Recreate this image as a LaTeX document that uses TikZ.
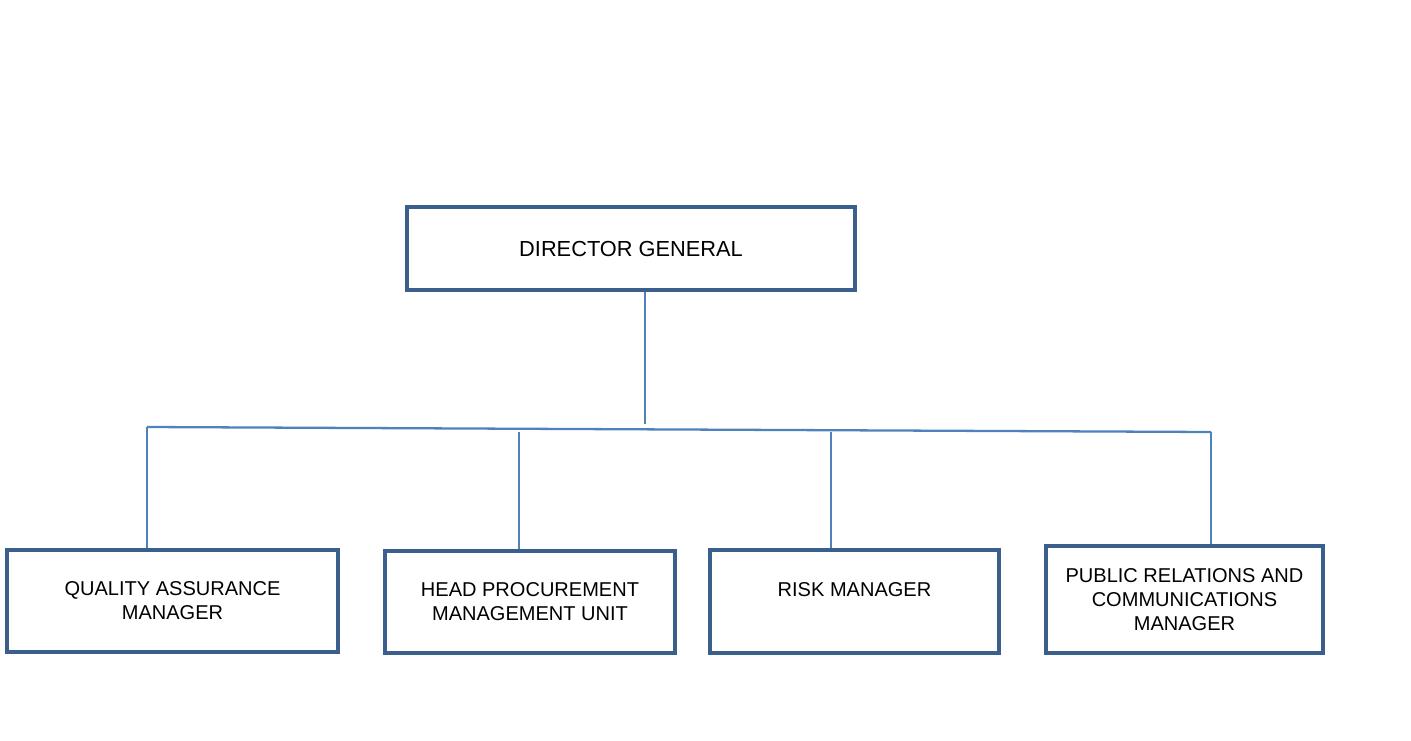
\documentclass[tikz,border=0pt]{standalone}
\usepackage{fontspec}
\setmainfont{Liberation Sans}
\usepackage{tikz}
\definecolor{boxblue}{HTML}{3A5F8C}
\definecolor{linkblue}{HTML}{4F81BD}
\tikzset{
  post/.style={draw=boxblue,line width=2.2pt,fill=white,align=center,
    inner sep=0pt,font=\fontsize{11.4}{13.6}\selectfont},
  link/.style={linkblue,line width=1.3pt}
}

\begin{document}
\begin{tikzpicture}[x=0.02cm,y=-0.02cm]
\useasboundingbox (0,0) rectangle (1411,741);

% Top of the chart
\node[post,minimum width=8.96cm,minimum height=1.66cm,font=\fontsize{12.4}{13.8}\selectfont] (dg) at (631,248.5) {DIRECTOR GENERAL};

% Second row
\node[post,minimum width=6.62cm,minimum height=2.04cm] (qa) at (172.5,601) {QUALITY ASSURANCE\\MANAGER};
\node[post,minimum width=5.80cm,minimum height=2.04cm] (hpmu) at (530,602) {HEAD PROCUREMENT\\MANAGEMENT UNIT};
\node[post,minimum width=5.78cm,minimum height=2.06cm] (risk) at (854.5,601.5) {RISK MANAGER\\\mbox{}};
\node[post,minimum width=5.54cm,minimum height=2.14cm] (prc) at (1184.5,599.5) {PUBLIC RELATIONS AND\\COMMUNICATIONS\\MANAGER};

% Bus line and drops
\coordinate (dgdrop) at (645,424);
\coordinate (busL) at (147,427);
\coordinate (busR) at (1211,432);
\coordinate (tophpmu) at (519,432);
\coordinate (toprisk) at (831,432);

\draw[link] (dg.south -| dgdrop) -- (dgdrop);
\draw[link] (busL) -- (busR);
\draw[link] (busL) -- (qa.north -| busL);
\draw[link] (tophpmu) -- (hpmu.north -| tophpmu);
\draw[link] (toprisk) -- (risk.north -| toprisk);
\draw[link] (busR) -- (prc.north -| busR);

\end{tikzpicture}
\end{document}
